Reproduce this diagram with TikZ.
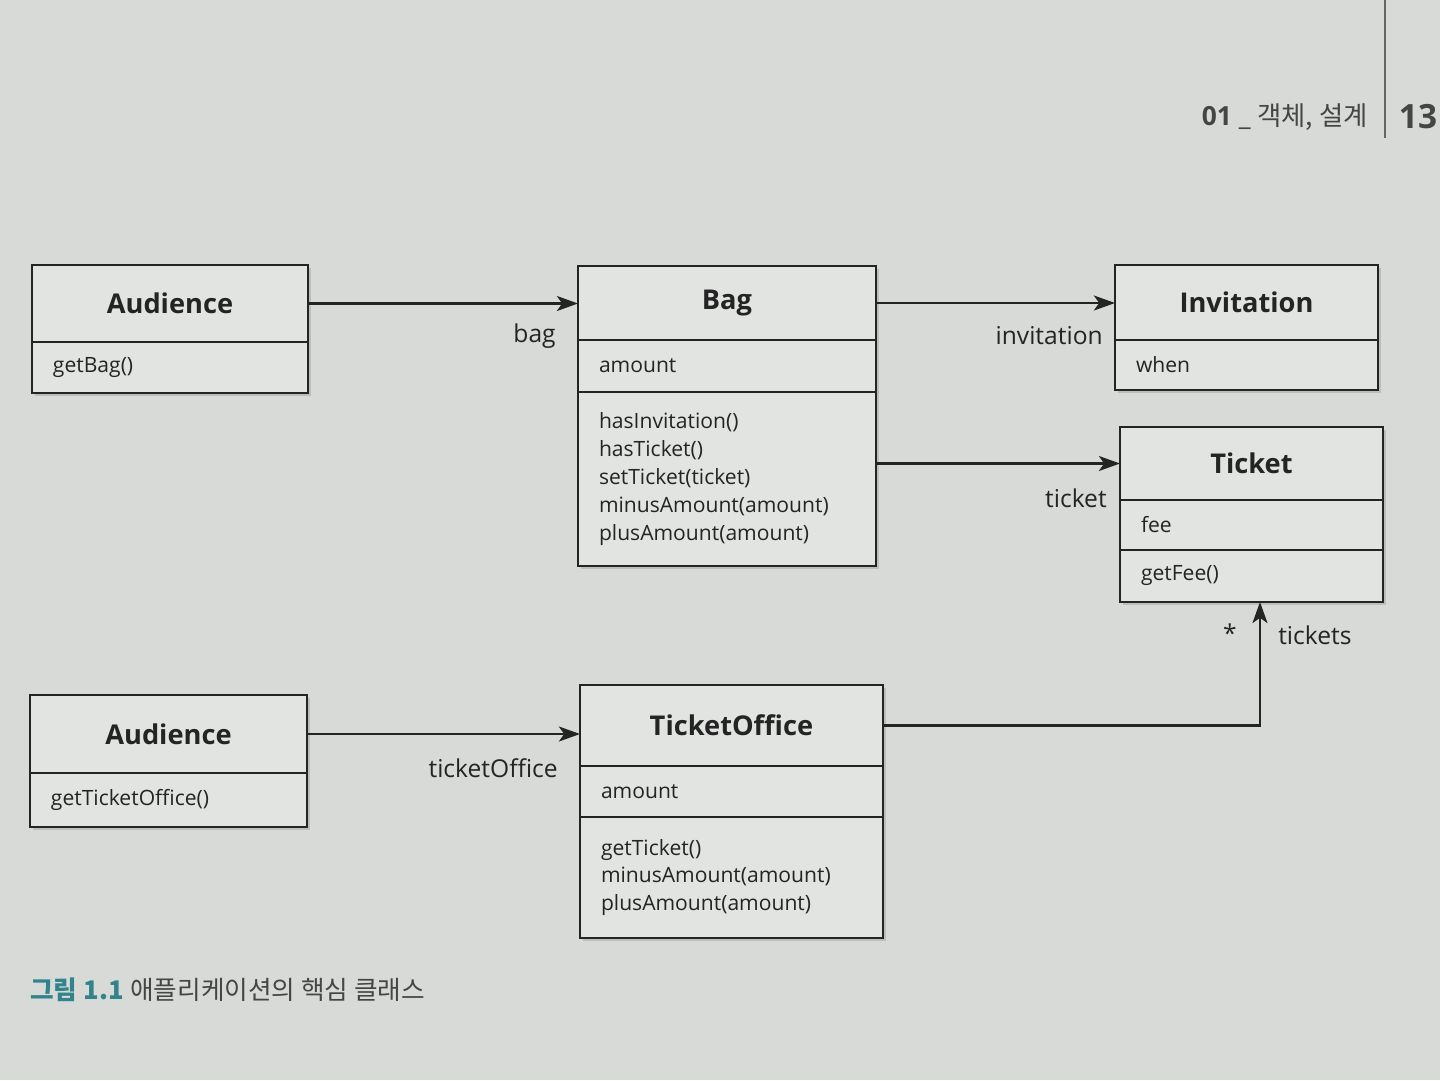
\documentclass[tikz,border=0pt]{standalone}
\usepackage{fontspec}
\setmainfont{Open Sans}
\newfontfamily\krfont{Noto Sans CJK KR}
\usepackage{xcolor}
\usetikzlibrary{arrows.meta,positioning,calc,shadows}
\definecolor{pagegray}{RGB}{216,218,215}
\definecolor{boxfill}{RGB}{226,228,226}
\definecolor{inkline}{RGB}{36,36,36}
\definecolor{captionteal}{RGB}{50,132,140}

\tikzset{
  cname/.style={draw=inkline,line width=1.3pt,fill=boxfill,anchor=north west,inner sep=0pt,outer sep=0pt,
    font=\fontsize{15.5}{18}\selectfont\bfseries,text=inkline,
    drop shadow={shadow xshift=1.5pt,shadow yshift=-1.5pt,opacity=0.3}},
  cpart/.style={draw=inkline,line width=1.3pt,fill=boxfill,align=left,text width=#1,outer sep=0pt,
    inner xsep=0.42cm,inner ysep=0pt,font=\fontsize{12}{15.9}\selectfont,text=inkline,
    drop shadow={shadow xshift=1.5pt,shadow yshift=-1.5pt,opacity=0.3}},
  assoc/.style={draw=inkline,line width=1.5pt,-{Stealth[length=12pt,width=8.5pt,inset=3pt]}},
  lbl/.style={font=\fontsize{14}{16}\selectfont,text=inkline,inner sep=0pt},
}

\begin{document}
\begin{tikzpicture}[x=0.02cm,y=0.02cm]
  \fill[pagegray] (0,0) rectangle (1440,-1080);
  \useasboundingbox (0,0) rectangle (1440,-1080);

  % page header
  \draw[line width=0.7pt,inkline!70] (1385,0) -- (1385,-138);
  \node[anchor=east,inner sep=0pt,text=inkline!85,font=\fontsize{15}{18}\selectfont] (chap) at (1368,-117)
    {\textbf{01} \_ {\krfont 객체, 설계}};
  \node[text=inkline!85,font=\fontsize{19}{22}\selectfont\bfseries] (pageno) at (1418,-117) {13};

  % Audience -> Bag -> Invitation / Ticket
  \node[cname,minimum width=5.52cm,minimum height=1.54cm] (aud1) at (32,-265) {Audience};
  \node[cpart=4.68cm,minimum height=1.02cm,below=0pt of aud1] (aud1ops) {getBag()};

  \node[cname,minimum width=5.96cm,minimum height=1.48cm] (bag) at (578,-266) {Bag};
  \node[cpart=5.12cm,minimum height=1.04cm,below=0pt of bag] (bagattr) {amount};
  \node[cpart=5.12cm,minimum height=3.48cm,below=0pt of bagattr] (bagops)
    {hasInvitation()\\hasTicket()\\setTicket(ticket)\\minusAmount(amount)\\plusAmount(amount)};

  \node[cname,minimum width=5.26cm,minimum height=1.5cm] (invit) at (1115,-265) {Invitation};
  \node[cpart=4.42cm,minimum height=1.0cm,below=0pt of invit] (invitattr) {when};

  \node[cname,minimum width=5.26cm,minimum height=1.46cm] (ticket) at (1120,-427) {Ticket};
  \node[cpart=4.42cm,minimum height=1.0cm,below=0pt of ticket] (ticketattr) {fee};
  \node[cpart=4.42cm,minimum height=1.04cm,below=0pt of ticketattr] (ticketops) {getFee()};

  % Audience -> TicketOffice
  \node[cname,minimum width=5.54cm,minimum height=1.56cm] (aud2) at (30,-695) {Audience};
  \node[cpart=4.70cm,minimum height=1.08cm,below=0pt of aud2] (aud2ops) {getTicketOffice()};

  \node[cname,minimum width=6.06cm,minimum height=1.62cm] (toffice) at (580,-685) {TicketOffice};
  \node[cpart=5.22cm,minimum height=1.02cm,below=0pt of toffice] (tofficeattr) {amount};
  \node[cpart=5.22cm,minimum height=2.42cm,below=0pt of tofficeattr] (tofficeops)
    {getTicket()\\minusAmount(amount)\\plusAmount(amount)};

  % associations
  \draw[assoc] (aud1.east) -- (aud1.east -| bag.west)
    node[lbl,anchor=east,xshift=-0.42cm,yshift=-0.66cm] {bag};
  \draw[assoc] (bag.east) -- (bag.east -| invit.west)
    node[lbl,anchor=east,xshift=-0.22cm,yshift=-0.66cm] {invitation};
  \draw[assoc] (bagops.east |- ticket.west) -- (ticket.west)
    node[lbl,anchor=east,xshift=-0.24cm,yshift=-0.7cm] {ticket};
  \draw[assoc] (aud2.east) -- (aud2.east -| toffice.west)
    node[lbl,anchor=east,xshift=-0.42cm,yshift=-0.68cm] {ticketOffice};
  \draw[assoc] (toffice.east) -| ([xshift=0.17cm]ticketops.south)
    node[lbl,xshift=-0.6cm,yshift=-0.62cm] {*}
    node[lbl,anchor=west,xshift=0.34cm,yshift=-0.66cm] {tickets};

  % caption
  \node[anchor=west,inner sep=0pt,font=\fontsize{14.6}{17}\selectfont] (caption) at (30,-990)
    {{\krfont\bfseries\color{captionteal}그림 1.1} {\krfont\color{inkline!85}애플리케이션의 핵심 클래스}};
\end{tikzpicture}
\end{document}
